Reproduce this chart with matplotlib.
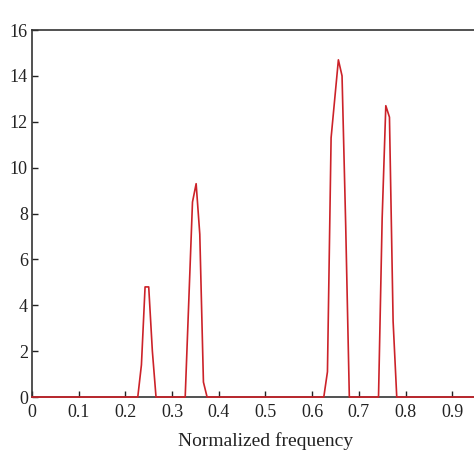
import numpy as np
import matplotlib
matplotlib.use("Agg")
import matplotlib.pyplot as plt

n_bins = 129
peak_bins = [30, 31, 32, 33,
             43, 44, 45, 46, 47,
             81, 82, 83, 84, 85, 86,
             96, 97, 98, 99]
peak_vals = [1.4, 4.8, 4.8, 2.0,
             4.3, 8.5, 9.3, 7.1, 0.65,
             1.1, 11.3, 13.0, 14.7, 14.0, 7.5,
             7.8, 12.7, 12.2, 3.3]

freq = np.arange(n_bins) / 128.0
amp = np.zeros(n_bins)
amp[peak_bins] = peak_vals

xticks = [0, 0.1, 0.2, 0.3, 0.4, 0.5, 0.6, 0.7, 0.8, 0.9]
xticklabels = ["0", "0.1", "0.2", "0.3", "0.4", "0.5", "0.6", "0.7", "0.8", "0.9"]
yticks = [0, 2, 4, 6, 8, 10, 12, 14, 16]

plt.rcParams['font.family'] = ['Liberation Serif', 'DejaVu Serif']

fig = plt.figure(figsize=(4.74, 4.74), dpi=100)
ax = fig.add_axes([0.0675, 0.1624, 0.985, 0.7743])
ax.plot(freq, amp, color='#cc2229', lw=1.2, zorder=3, clip_on=False)
ax.set_xlim(0, 1)
ax.set_ylim(0, 16)
ax.set_xticks(xticks)
ax.set_xticklabels(xticklabels)
ax.set_yticks(yticks)
ax.tick_params(direction='in', length=4, width=1.0, labelsize=13, colors='#222222', pad=3)
ax.tick_params(axis='x', pad=5)
for s in ax.spines.values():
    s.set_color('#333333')
    s.set_linewidth(1.2)
ax.set_xlabel('Normalized frequency', fontsize=14, color='#222222', labelpad=8)
fig.savefig('out.png', dpi=100)
